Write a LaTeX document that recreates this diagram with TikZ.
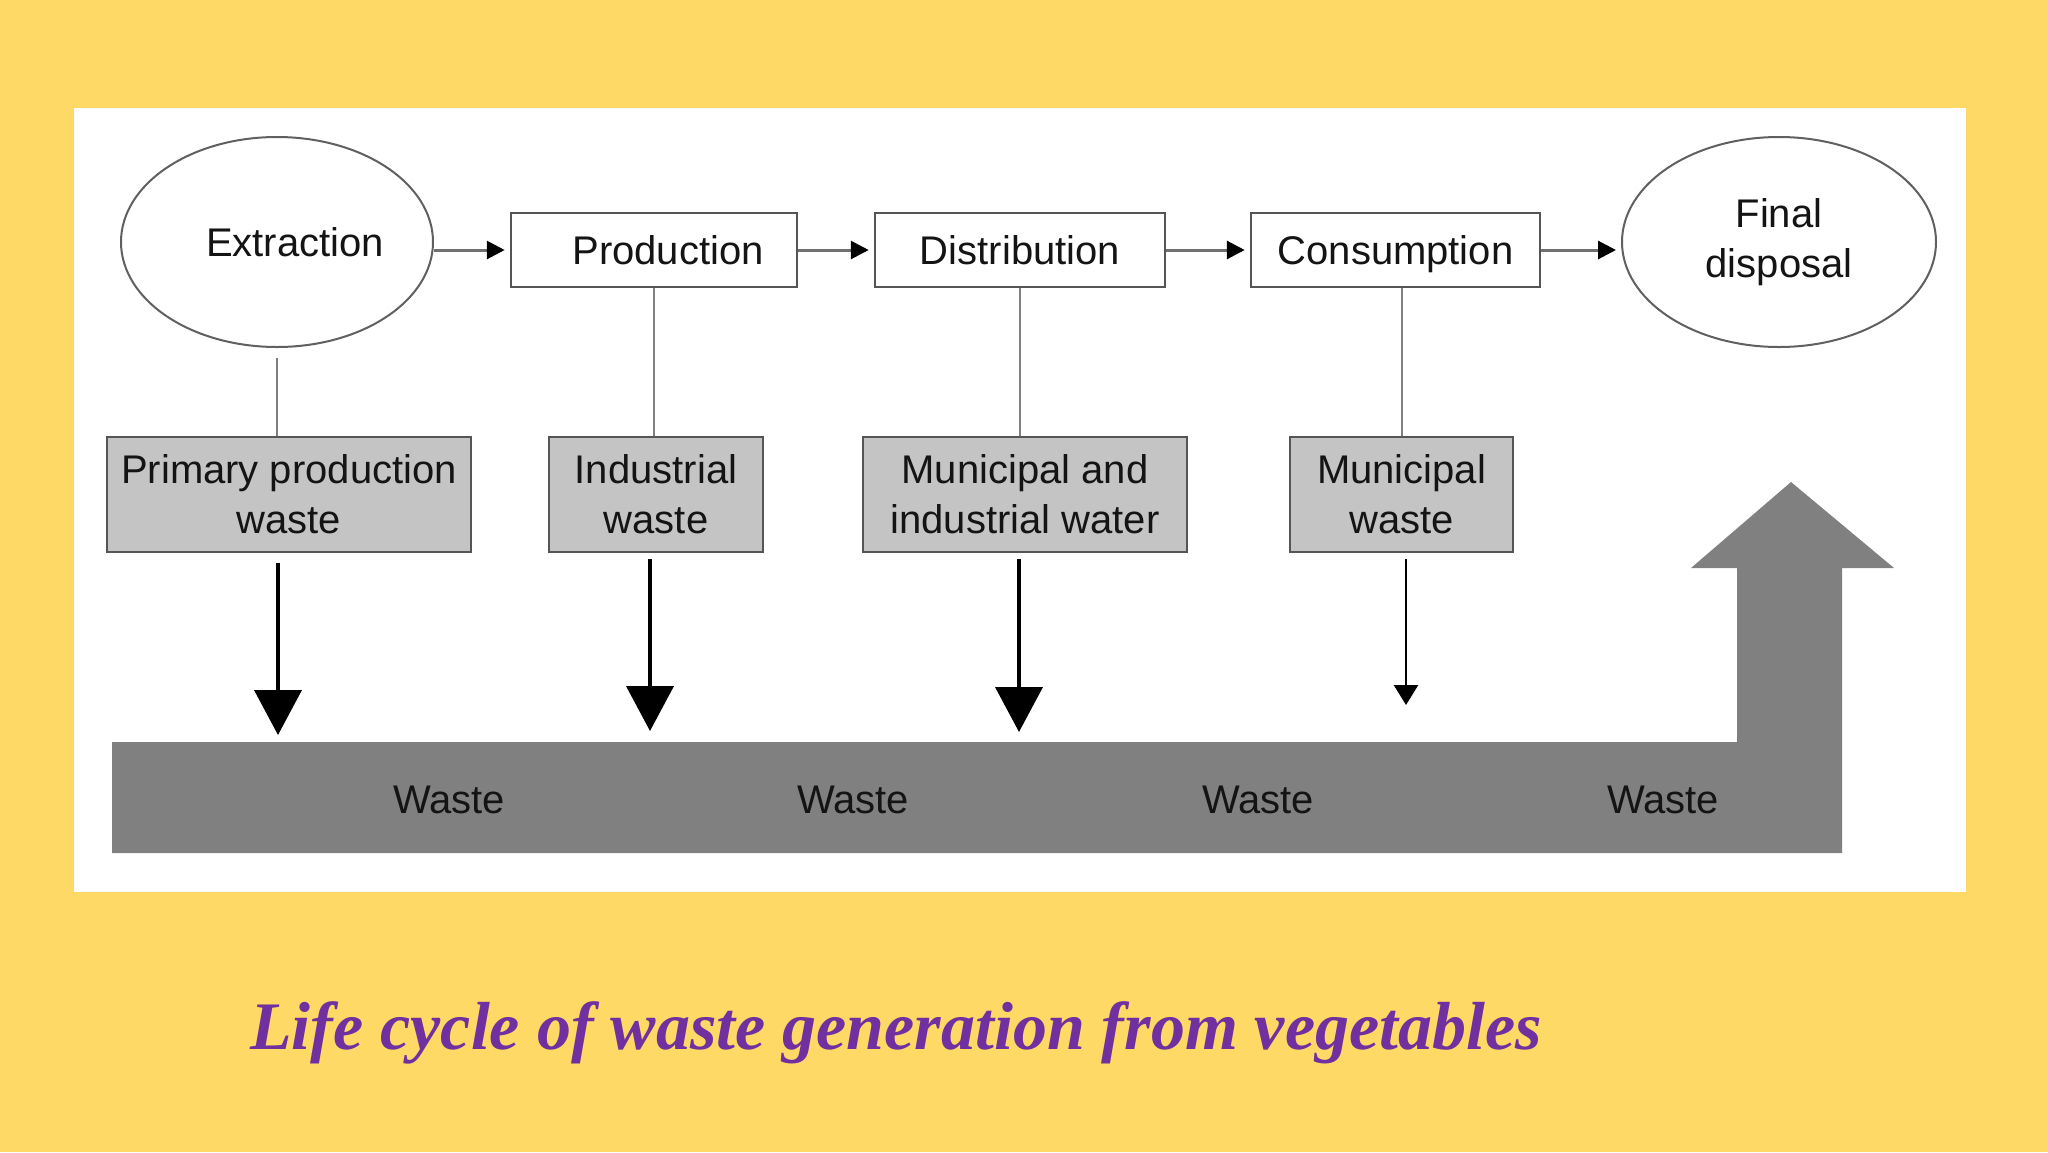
\documentclass[tikz,border=0pt]{standalone}
\usepackage{fontspec}
\setmainfont{Liberation Sans}
\newfontfamily\capfont{Liberation Serif}
\usetikzlibrary{shapes.geometric,arrows.meta,calc}
\definecolor{bgyellow}{HTML}{FFD966}
\definecolor{ellborder}{HTML}{606060}
\definecolor{boxborder}{HTML}{555555}
\definecolor{boxfill}{HTML}{C4C4C4}
\definecolor{bigarrow}{HTML}{808080}
\definecolor{txt}{HTML}{141414}
\definecolor{flowgray}{HTML}{707070}
\definecolor{linkgray}{HTML}{808080}
\definecolor{cappurple}{HTML}{7030A0}
\begin{document}
\begin{tikzpicture}[x=1pt,y=-1pt,
  lbl/.style={font=\fontsize{40}{50}\selectfont, text=txt, align=center},
  stage/.style={lbl, draw=boxborder, line width=2.5pt, fill=white, minimum height=74pt, inner sep=0pt, text height=29pt, text depth=0pt},
  endell/.style={lbl, ellipse, draw=ellborder, line width=2pt, fill=white, minimum width=312pt, minimum height=210pt, inner sep=0pt},
  wastebox/.style={lbl, draw=boxborder, line width=2.5pt, fill=boxfill, minimum height=115pt, inner sep=0pt},
  flow/.style={draw=flowgray, line width=3pt, -{Triangle[length=18pt,width=18pt,color=black]}, shorten >=5pt},
  link/.style={draw=linkgray, line width=2pt},
  drop/.style={draw=black, line width=4pt, -{Triangle[length=45pt,width=47pt]}},
  thindrop/.style={draw=black, line width=2.5pt, -{Triangle[length=20pt,width=24pt]}},
  wastelbl/.style={lbl}
]
\useasboundingbox (0,0) rectangle (2048,1152);
\fill[bgyellow] (0,0) rectangle (2048,1152);
\fill[white] (74,108) rectangle (1966,892);

% big waste arrow
\fill[bigarrow] (112,742) -- (1737,742) -- (1737,568) -- (1691,568) -- (1791,482)
  -- (1894,568) -- (1842,568) -- (1842,853) -- (112,853) -- cycle;

% top row
\node[endell] (ext) at (277,242) {\hspace*{36pt}Extraction};
\node[stage, minimum width=286pt] (prod) at (654,250) {\hspace*{28pt}Production};
\node[stage, minimum width=290pt] (dist) at (1020,250) {Distribution};
\node[stage, minimum width=289pt] (cons) at (1395.5,250) {Consumption};
\node[endell, minimum width=314pt] (fin) at (1779,242) {Final\\disposal};

% waste boxes
\node[wastebox, minimum width=364pt] (pw) at (289,494.5) {Primary production\\waste};
\node[wastebox, minimum width=214pt] (iw) at (656,494.5) {Industrial\\waste};
\node[wastebox, minimum width=324pt] (mi) at (1025,494.5) {Municipal and\\industrial water};
\node[wastebox, minimum width=223pt] (mw) at (1401.5,494.5) {Municipal\\waste};

% flow arrows
\draw[flow] (ext.east |- prod.west) -- (prod.west);
\draw[flow] (prod.east) -- (dist.west);
\draw[flow] (dist.east) -- (cons.west);
\draw[flow] (cons.east) -- (fin.west |- cons.east);

% links
\draw[link] ($(ext.south)+(0,10)$) -- (ext.south |- pw.north);
\draw[link] (prod.south) -- (prod.south |- iw.north);
\draw[link] (dist.south) -- (dist.south |- mi.north);
\draw[link] (mw.north |- cons.south) -- (mw.north);

% drop points on the waste stream
\coordinate (d1) at (278,735);
\coordinate (d2) at (650,731);
\coordinate (d3) at (1019,732);
\coordinate (d4) at (1406,705);
\draw[drop] ($(pw.south)+(-11,10)$) -- (d1);
\draw[drop] ($(iw.south)+(-6,6)$) -- (d2);
\draw[drop] ($(mi.south)+(-6,6)$) -- (d3);
\draw[thindrop] ($(mw.south)+(4.5,6)$) -- (d4);

% waste labels
\node[wastelbl] (w1) at (449,800) {Waste};
\node[wastelbl] (w2) at (853,800) {Waste};
\node[wastelbl] (w3) at (1258,800) {Waste};
\node[wastelbl] (w4) at (1663,800) {Waste};

% caption
\node[font=\capfont\bfseries\itshape\fontsize{68}{80}\selectfont, text=cappurple, anchor=base] (cap) at (896,1049) {Life cycle of waste generation from vegetables};
\end{tikzpicture}
\end{document}
